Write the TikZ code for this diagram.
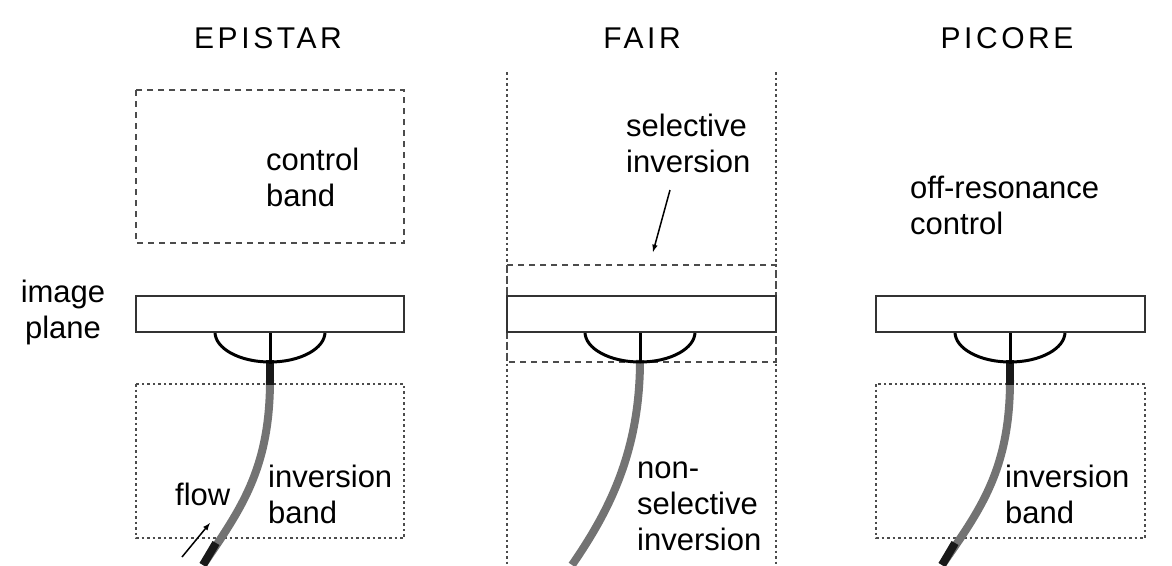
\documentclass[tikz,border=0pt]{standalone}
\usepackage{fontspec}
\setmainfont{Liberation Sans}
\begin{document}
\begin{tikzpicture}[x=1pt,y=-1pt,
  lbl/.style={font=\fontsize{31}{36}\selectfont,inner sep=0pt,align=left,anchor=north west},
  ttl/.style={font=\fontsize{30}{36}\selectfont\addfontfeature{LetterSpace=12},inner sep=0pt},
  plane/.style={draw=black!80,line width=2.5pt},
  dashbox/.style={draw=black!70,line width=2.5pt,dash pattern=on 6pt off 5pt},
  dotbox/.style={draw=black!70,line width=2.5pt,dash pattern=on 2.5pt off 3pt},
  vessel/.style={draw=black!55,line width=8pt},
  darkv/.style={draw=black!90,line width=8pt},
  arr/.style={draw,line width=1.5pt,-latex}]
\useasboundingbox (0,0) rectangle (1172,565);
% titles
\node[ttl] (t1) at (268,38) {EPISTAR};
\node[ttl] (t2) at (642,38) {FAIR};
\node[ttl] (t3) at (1007,38) {PICORE};
\node[lbl,align=center,anchor=center] (ip) at (63,312) {image\\plane};
% EPISTAR
\draw[dashbox] (136,90) rectangle (404,243);
\node[lbl] (cb) at (266,148) {control\\band};
\draw[dotbox] (136,384) rectangle (404,538);
\draw[vessel] (270,380) .. controls (270,470) and (240,510) .. (203,565);
\draw[darkv] (270,360) -- (270,385);
\draw[darkv] (216,543) -- (203,565);
\draw[line width=3pt] (270,332) -- (270,364);
\draw[line width=3pt] (215,332) arc (180:0:55 and 30);
\draw[plane,fill=white] (136,296) rectangle (404,332);
\node[lbl] (ib1) at (268,465) {inversion\\band};
\node[lbl] (fl) at (175,483) {flow};
\coordinate (fa) at (182,557);
\coordinate (fb) at (210,523);
\draw[arr] (fa) -- (fb);
% FAIR
\draw[dotbox] (507,72) -- (507,565);
\draw[dotbox] (776,72) -- (776,565);
\draw[dashbox] (507,265) rectangle (776,362);
\draw[vessel] (640,360) .. controls (640,450) and (610,510) .. (572,565);
\draw[line width=3pt] (640,332) -- (640,362);
\draw[line width=3pt] (585,332) arc (180:0:55 and 30);
\draw[plane,fill=white] (507,296) rectangle (776,332);
\node[lbl] (si) at (626,114) {selective\\inversion};
\coordinate (sa) at (670,190);
\coordinate (sb) at (653,252);
\draw[arr] (sa) -- (sb);
\node[lbl] (ns) at (637,462) {non-\\selective\\inversion};
% PICORE
\draw[dotbox] (876,384) rectangle (1145,538);
\draw[vessel] (1010,380) .. controls (1010,470) and (980,510) .. (942,565);
\draw[darkv] (1010,360) -- (1010,385);
\draw[darkv] (955,543) -- (942,565);
\draw[line width=3pt] (1010,332) -- (1010,364);
\draw[line width=3pt] (955,332) arc (180:0:55 and 30);
\draw[plane,fill=white] (876,296) rectangle (1145,332);
\node[lbl] (oc) at (910,176) {off-resonance\\control};
\node[lbl] (ib3) at (1005,465) {inversion\\band};
\end{tikzpicture}
\end{document}
